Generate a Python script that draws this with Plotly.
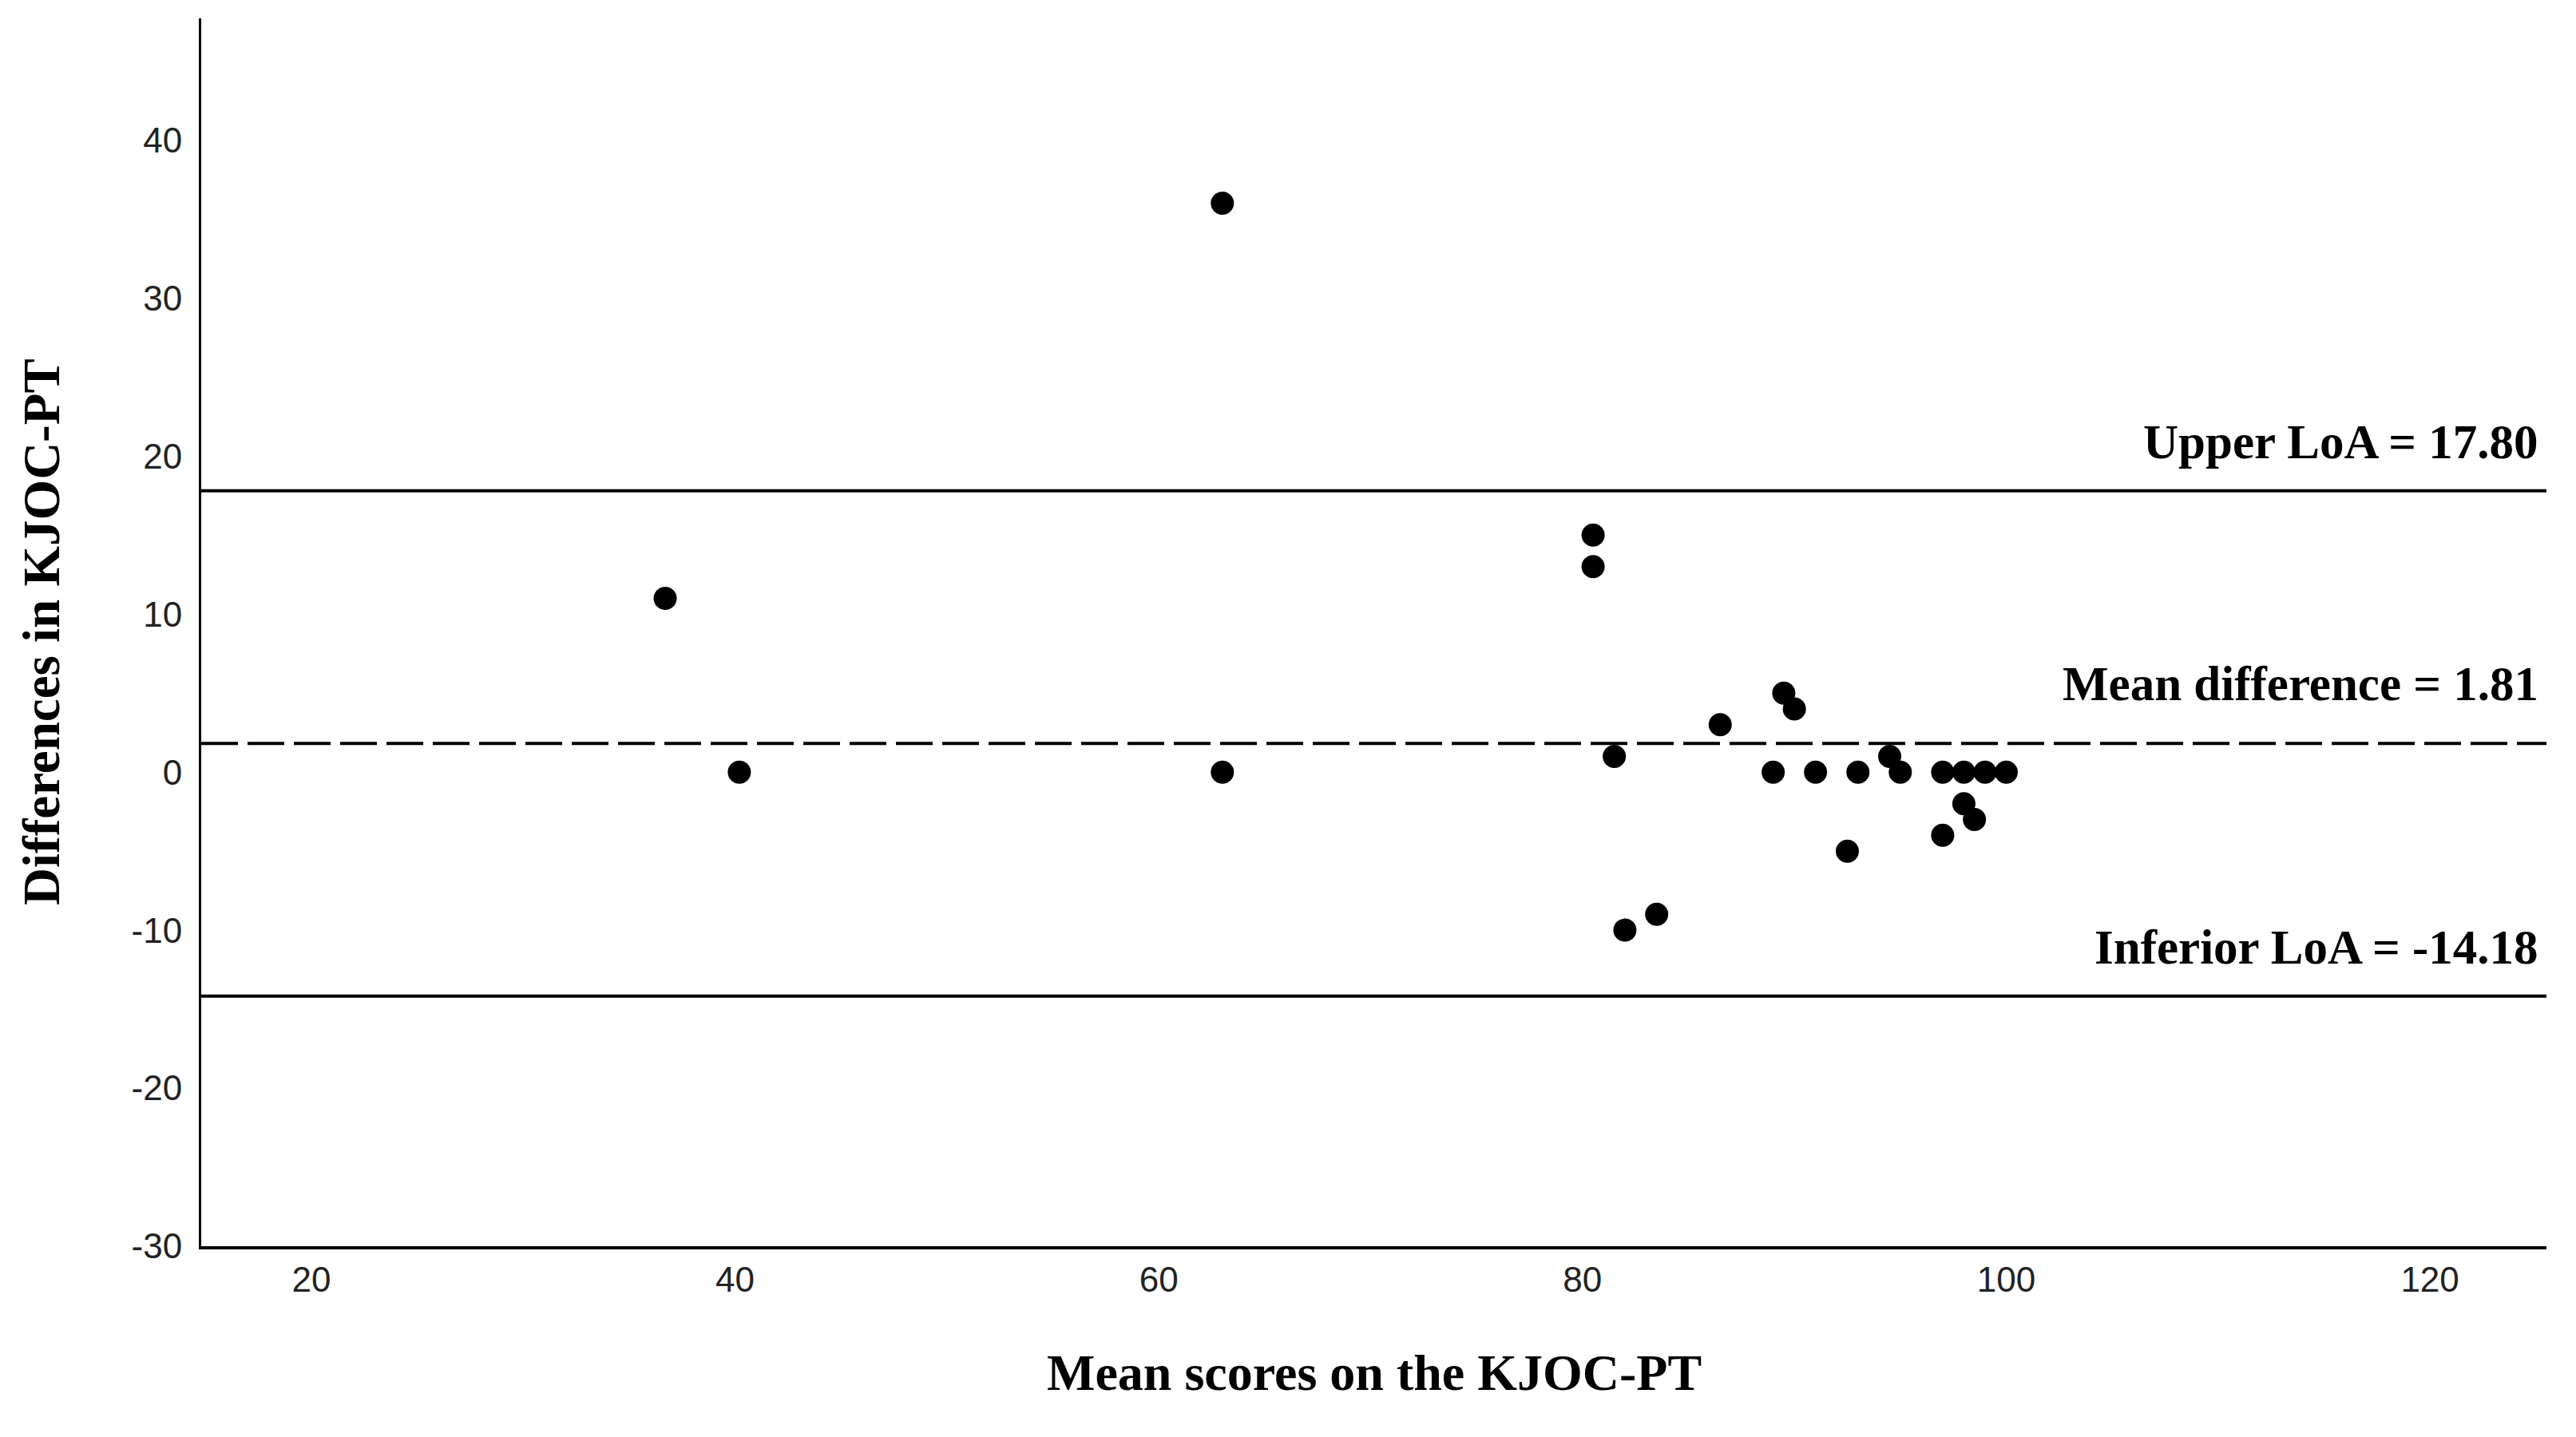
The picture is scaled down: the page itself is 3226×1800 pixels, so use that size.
import plotly.graph_objects as go

# Bland-Altman data
mean_scores = [63, 36.7, 40.2, 63, 80.5, 80.5, 81.5, 82, 83.5, 86.5, 89, 89.5, 90,
               91, 92.5, 93, 94.5, 95, 97, 97, 98, 98, 98.5, 99, 100]
differences = [36, 11, 0, 0, 15, 13, 1, -10, -9, 3, 0, 5, 4,
               0, -5, 0, 1, 0, 0, -4, 0, -2, -3, 0, 0]

upper_loa = 17.80
mean_diff = 1.81
lower_loa = -14.18

x_ticks = [20, 40, 60, 80, 100, 120]
y_ticks = [-30, -20, -10, 0, 10, 20, 30, 40]

serif = "Liberation Serif, Times New Roman, serif"
sans = "Liberation Sans, Arial, sans-serif"

fig = go.Figure(
    go.Scatter(
        x=mean_scores,
        y=differences,
        mode="markers",
        marker=dict(color="black", size=29),
        showlegend=False,
    )
)

# limits of agreement and mean difference
fig.add_hline(y=upper_loa, line=dict(color="black", width=4))
fig.add_hline(y=lower_loa, line=dict(color="black", width=4))
fig.add_hline(y=mean_diff, line=dict(color="black", width=4, dash="46px,12px"))

label_font = dict(family=serif, size=61, color="black")
for val, text, shift in [
    (upper_loa, f"<b>Upper LoA = {upper_loa:.2f}</b>", 61),
    (mean_diff, f"<b>Mean difference = {mean_diff:.2f}</b>", 75),
    (lower_loa, f"<b>Inferior LoA = {lower_loa:.2f}</b>", 61),
]:
    fig.add_annotation(
        x=1, xref="paper", y=val, yref="y",
        text=text, showarrow=False,
        xanchor="right", yanchor="middle", xshift=-8, yshift=shift,
        font=label_font,
    )

# axis titles
fig.add_annotation(
    x=0.5, xref="paper", y=0, yref="paper", yshift=-158,
    text="<b>Mean scores on the KJOC-PT</b>", showarrow=False,
    xanchor="center", yanchor="middle",
    font=dict(family=serif, size=64, color="black"),
)
fig.add_annotation(
    x=0, xref="paper", y=0.5, yref="paper", xshift=-200,
    text="<b>Differences in KJOC-PT</b>", showarrow=False, textangle=-90,
    xanchor="center", yanchor="middle",
    font=dict(family=serif, size=65, color="black"),
)

fig.update_xaxes(
    range=[14.8, 125.5],
    tickvals=x_ticks,
    ticktext=[str(v) for v in x_ticks],
    showgrid=False, zeroline=False,
    showline=True, linecolor="black", linewidth=4,
    ticks="", ticklen=0, ticklabelstandoff=0,
    tickfont=dict(family=sans, size=44, color="#222"),
)
fig.update_yaxes(
    range=[-30, 47.7],
    tickvals=y_ticks,
    ticktext=[str(v) for v in y_ticks],
    showgrid=False, zeroline=False,
    showline=True, linecolor="black", linewidth=3,
    ticks="", ticklen=0, ticklabelstandoff=12,
    tickfont=dict(family=sans, size=44, color="#222"),
)

# page body adds an 8px offset, so trim the size and top/left margins
fig.update_layout(
    width=3218,
    height=1792,
    autosize=False,
    margin=dict(l=244, r=37, t=15, b=239, pad=0),
    plot_bgcolor="white",
    paper_bgcolor="white",
)

fig.write_html("out.html")
